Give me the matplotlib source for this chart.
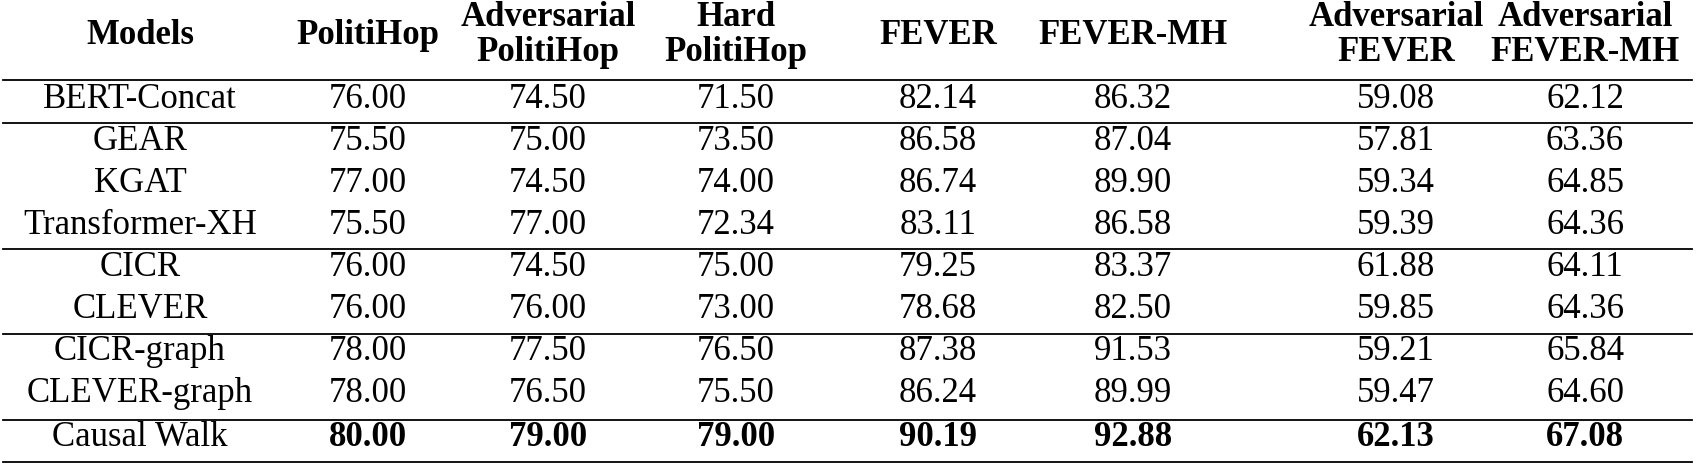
import matplotlib
matplotlib.use("Agg")
import matplotlib.pyplot as plt

headers = ["Models", "PolitiHop", "Adversarial\nPolitiHop", "Hard\nPolitiHop", "FEVER", "FEVER-MH",
           "Adversarial\nFEVER", "Adversarial\nFEVER-MH"]
models = ["BERT-Concat", "GEAR", "KGAT", "Transformer-XH", "CICR", "CLEVER", "CICR-graph", "CLEVER-graph", "Causal Walk"]
values = [
    ["76.00", "74.50", "71.50", "82.14", "86.32", "59.08", "62.12"],
    ["75.50", "75.00", "73.50", "86.58", "87.04", "57.81", "63.36"],
    ["77.00", "74.50", "74.00", "86.74", "89.90", "59.34", "64.85"],
    ["75.50", "77.00", "72.34", "83.11", "86.58", "59.39", "64.36"],
    ["76.00", "74.50", "75.00", "79.25", "83.37", "61.88", "64.11"],
    ["76.00", "76.00", "73.00", "78.68", "82.50", "59.85", "64.36"],
    ["78.00", "77.50", "76.50", "87.38", "91.53", "59.21", "65.84"],
    ["78.00", "76.50", "75.50", "86.24", "89.99", "59.47", "64.60"],
    ["80.00", "79.00", "79.00", "90.19", "92.88", "62.13", "67.08"],
]

W, H = 1696, 467
fig = plt.figure(figsize=(W/100, H/100), dpi=100)
ax = fig.add_axes([0, 0, 1, 1])
ax.set_xlim(0, W); ax.set_ylim(H, 0); ax.axis("off")
plt.rcParams['font.family'] = ['Liberation Serif']
fs = 25
xs = [140, 368, 548, 736, 938, 1133, 1396, 1585]
for x, h in zip(xs, headers):
    ax.text(x, 35, h, ha="center", va="center", fontsize=fs, fontweight="bold", linespacing=1.1)
ys = [99, 141, 183, 225, 267, 309, 352, 394, 437]
for i, (m, row) in enumerate(zip(models, values)):
    bold = "bold" if i == len(models) - 1 else "normal"
    ax.text(xs[0], ys[i], m, ha="center", va="center", fontsize=fs)
    for x, v in zip(xs[1:], row):
        ax.text(x, ys[i], v, ha="center", va="center", fontsize=fs, fontweight=bold)
for y in [80, 123, 249, 334, 420, 462]:
    ax.plot([3, 1692], [y, y], color="black", lw=1.3)
fig.savefig("out.png", dpi=100)
